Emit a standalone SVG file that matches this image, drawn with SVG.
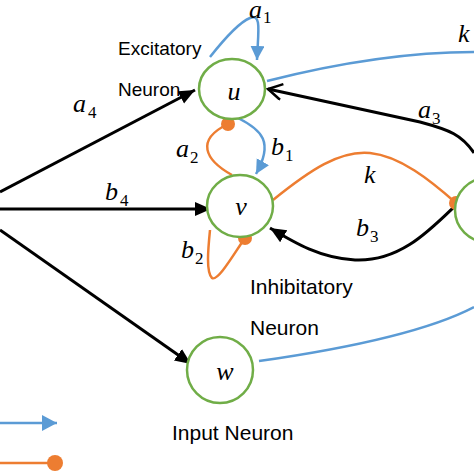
<svg xmlns="http://www.w3.org/2000/svg" width="474" height="474" viewBox="0 0 474 474">
<style>
.node{fill:#fff;stroke:#70AD47;stroke-width:2.5}
.blk{fill:none;stroke:#000;stroke-width:3}
.blu{fill:none;stroke:#5B9BD5;stroke-width:2.5}
.org{fill:none;stroke:#ED7D31;stroke-width:2.5}
.dot{fill:#ED7D31}
.txt{font-family:"Liberation Sans",Arial,sans-serif;fill:#000}
.m{font-family:"Liberation Serif","Times New Roman",serif;font-style:italic;font-size:26px;fill:#000}
.s{font-family:"Liberation Serif","Times New Roman",serif;font-size:17px;fill:#000}
</style>
<defs>
<marker id="ab" markerUnits="userSpaceOnUse" markerWidth="18" markerHeight="16" refX="16" refY="7" orient="auto"><path d="M0,0 L16,7 L0,14 z" fill="#000"/></marker>
<marker id="ao" markerUnits="userSpaceOnUse" markerWidth="18" markerHeight="20" refX="15" refY="9" orient="auto"><path d="M1,1 L15,9 L1,17" fill="none" stroke="#000" stroke-width="2.5"/></marker>
<marker id="bl" markerUnits="userSpaceOnUse" markerWidth="16" markerHeight="16" refX="14" refY="7" orient="auto"><path d="M0,0 L14,7 L0,14 z" fill="#5B9BD5"/></marker>
<marker id="bl2" markerUnits="userSpaceOnUse" markerWidth="18" markerHeight="18" refX="15" refY="8" orient="auto"><path d="M0,0 L15,8 L0,16 z" fill="#5B9BD5"/></marker>
</defs>
<g id="connectors">
<path class="blk" d="M0 192 L195 90" marker-end="url(#ab)"/>
<path class="blk" d="M0 209 L211 209" marker-end="url(#ab)"/>
<path class="blk" d="M0 230 L191 364" marker-end="url(#ab)"/>
<path class="blk" d="M474 153 C462 135 450 130 420 122 L268 89" marker-end="url(#ao)"/>
<path class="blk" d="M456 205 C430 230 400 262 355 260 C320 258 295 243 270 228" marker-end="url(#ab)"/>
<path class="blu" d="M210 57 C225 38 240 22 250 18 C262 13 258 32 257 60" marker-end="url(#bl)"/>
<path class="blu" d="M238 118 C262 130 274 142 256 174" marker-end="url(#bl)"/>
<path class="blu" d="M267 81 C330 65 400 52 474 52"/>
<path class="blu" d="M259 361 C350 348 430 330 474 307"/>
<path class="org" d="M232 175 C205 160 195 140 228 124"/>
<circle class="dot" cx="228" cy="124" r="7"/>
<path class="org" d="M210 230 C208 250 206 272 212 278 C218 282 235 252 245 238"/>
<circle class="dot" cx="245" cy="238" r="7"/>
<path class="org" d="M273 200 C310 170 340 150 370 153 C400 156 430 180 456 203"/>
<circle class="dot" cx="456" cy="203" r="7"/>
<path class="blu" d="M0 423 L57 423" marker-end="url(#bl2)"/>
<path class="org" d="M0 463 L55 463"/>
<circle class="dot" cx="55" cy="463" r="8"/>
</g>
<g id="node-u"><ellipse class="node" cx="232" cy="89" rx="33" ry="30"/><text class="m" x="234" y="100" text-anchor="middle">u</text></g>
<g id="node-v"><ellipse class="node" cx="240" cy="206" rx="33" ry="31"/><text class="m" x="241" y="215" text-anchor="middle">v</text></g>
<g id="node-w"><ellipse class="node" cx="220" cy="370" rx="33" ry="33"/><text class="m" x="225" y="380" text-anchor="middle">w</text></g>
<g id="node-right"><circle class="node" cx="487" cy="210" r="32"/></g>
<g id="labels">
<text class="txt" x="118" y="55" font-size="19">Excitatory</text>
<text class="txt" x="118" y="96" font-size="19">Neuron</text>
<text class="txt" x="250" y="294" font-size="21">Inhibitatory</text>
<text class="txt" x="250" y="335" font-size="21">Neuron</text>
<text class="txt" x="172" y="440" font-size="21">Input Neuron</text>
<text class="m" x="249" y="18">a</text><text class="s" x="263" y="23">1</text>
<text class="m" x="73" y="112">a</text><text class="s" x="88" y="118">4</text>
<text class="m" x="176" y="157">a</text><text class="s" x="190" y="163">2</text>
<text class="m" x="105" y="200">b</text><text class="s" x="120" y="206">4</text>
<text class="m" x="271" y="155">b</text><text class="s" x="285" y="161">1</text>
<text class="m" x="364" y="183">k</text>
<text class="m" x="418" y="118">a</text><text class="s" x="432" y="124">3</text>
<text class="m" x="458" y="42">k</text>
<text class="m" x="181" y="258">b</text><text class="s" x="195" y="264">2</text>
<text class="m" x="356" y="236">b</text><text class="s" x="370" y="242">3</text>
</g>
</svg>
